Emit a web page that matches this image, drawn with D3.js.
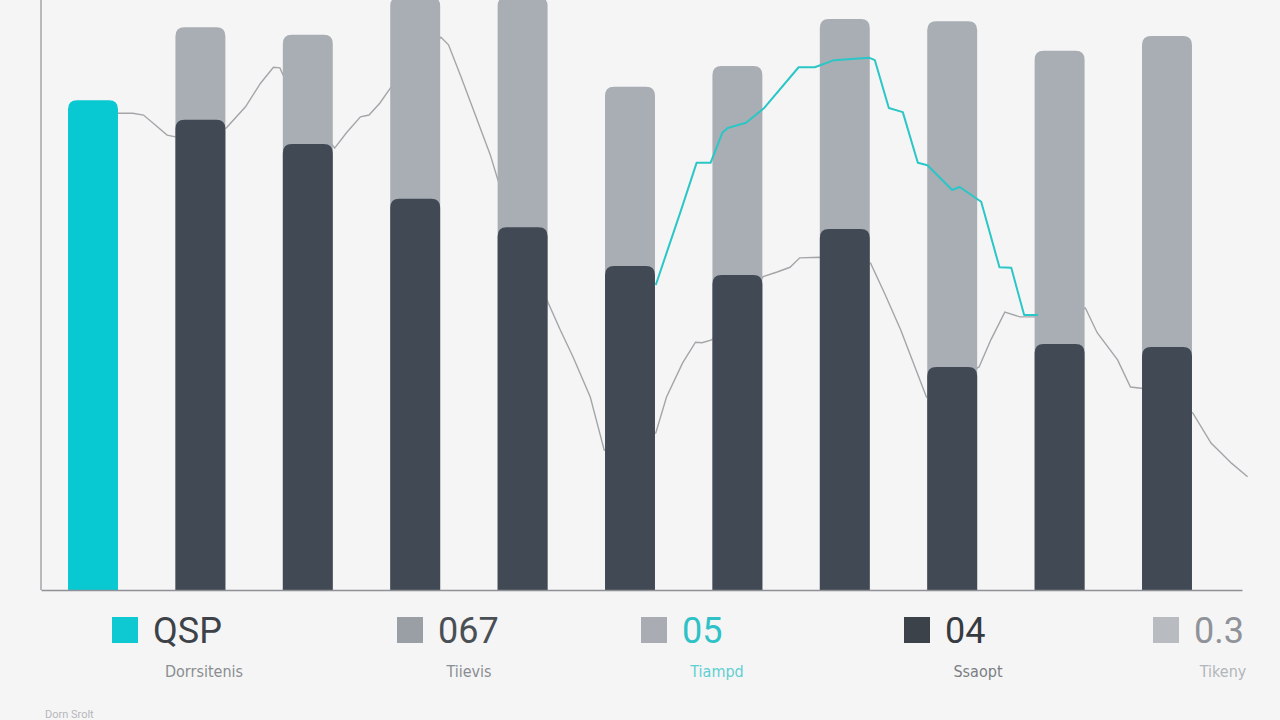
<!DOCTYPE html>
<html>
<head>
<meta charset="utf-8">
<script src="https://cdn.jsdelivr.net/npm/d3@7"></script>
<style>
  html, body { margin: 0; padding: 0; background: #f5f5f6; overflow: hidden; }
  svg { display: block; font-family: Roboto, "Liberation Sans", Arial, sans-serif; }
</style>
</head>
<body>
<div id="chart"></div>
<script>
// chart values
const categories = ['C1', 'C2', 'C3', 'C4', 'C5', 'C6', 'C7', 'C8', 'C9', 'C10', 'C11'];
const cyanValues = [83, null, null, null, null, null, null, null, null, null, null];
const lightValues = [null, 95.4, 94.1, 100.5, 100.5, 85.3, 88.8, 96.8, 96.4, 91.4, 93.9];
const darkValues = [null, 79.7, 75.6, 66.3, 61.5, 54.9, 53.4, 61.2, 37.8, 41.7, 41.2];

// thin gray trend line: [position in category units, value]
const grayLine = [
  [0.73, 80.8], [0.87, 80.8], [0.97, 80.5], [1.08, 78.8], [1.19, 77.1], [1.27, 76.8],
  [1.74, 78.3], [1.92, 81.9], [2.06, 85.9], [2.18, 88.6], [2.24, 88.5], [2.28, 86.9],
  [2.75, 74.9], [2.86, 77.5], [2.99, 80.2], [3.07, 80.5], [3.17, 82.5], [3.27, 85.1],
  [3.74, 93.7], [3.81, 92.4], [3.92, 87.3], [4.06, 80.5], [4.20, 73.7], [4.27, 69.5],
  [4.74, 48.6], [4.85, 44.1], [4.97, 39.5], [5.13, 32.7], [5.26, 23.7],
  [5.74, 26.6], [5.84, 32.7], [5.99, 38.5], [6.11, 42.0], [6.17, 41.9], [6.26, 42.4],
  [6.74, 53.1], [6.87, 53.9], [6.99, 54.7], [7.08, 56.3], [7.27, 56.4],
  [7.74, 55.4], [7.87, 50.3], [8.02, 44.1], [8.26, 32.7],
  [8.75, 37.8], [8.86, 42.4], [8.99, 47.1], [9.13, 46.3], [9.28, 46.3],
  [9.74, 47.8], [9.85, 43.6], [10.04, 39.0], [10.16, 34.4], [10.26, 34.2],
  [10.74, 30.0], [10.91, 24.9], [11.10, 21.5], [11.25, 19.2]
];

// cyan trend line
const cyanLine = [
  [5.74, 51.7], [5.84, 57.1], [5.97, 64.1], [6.12, 72.4], [6.25, 72.4], [6.36, 77.5],
  [6.41, 78.3], [6.58, 79.2], [6.69, 80.8], [6.75, 81.7], [7.07, 88.6], [7.22, 88.6],
  [7.40, 89.8], [7.73, 90.2], [7.78, 89.8], [7.91, 81.7], [8.04, 81.0], [8.18, 72.4],
  [8.27, 72.0], [8.50, 67.8], [8.57, 68.3], [8.77, 65.8], [8.94, 54.7], [9.05, 54.6],
  [9.17, 46.6], [9.30, 46.6]
];

// legend
const legendLabels = ['QSP', '067', '05', '04', '0.3'];
const legendSubs = ['Dorrsitenis', 'Tiievis', 'Tiampd', 'Ssaopt', 'Tikeny'];
const legendSwatch = ['#0fc9d2', '#9a9ea5', '#a9adb3', '#3b424a', '#b8bbc0'];
const legendTextColor = ['#3d4248', '#4a4f55', '#2ec2c6', '#363b41', '#8f9399'];
const legendSubColor = ['#8a8d91', '#8a8d91', '#5fcfd2', '#7b7e82', '#b2b5b9'];

const w = 1280;
const h = 720;
const left = 41;
const right = 1242;
const bottom = 590;

const svg = d3.select('#chart')
  .append('svg')
  .attr('width', w)
  .attr('height', h);

const xBand = d3.scaleBand()
  .domain(categories)
  .range([39.3, 1220.7])
  .paddingInner(0.535)
  .paddingOuter(0.2675);

const xLin = d3.scaleLinear()
  .domain([0, categories.length])
  .range([39.3, 1220.7]);

const y = d3.scaleLinear()
  .domain([0, 100])
  .range([bottom, 0]);

// path for a bar with rounded top corners
const barPath = (x0, y0, bw, bh, r) => {
  const rr = Math.min(r, bh);
  return `M${x0},${y0 + bh}V${y0 + rr}Q${x0},${y0} ${x0 + rr},${y0}` +
    `H${x0 + bw - rr}Q${x0 + bw},${y0} ${x0 + bw},${y0 + rr}V${y0 + bh}Z`;
};

const drawBars = (values, color, cls) => {
  svg.append('g')
    .attr('class', cls)
    .selectAll('path')
    .data(categories.map((c, i) => ({ c, v: values[i] })).filter(d => d.v != null))
    .enter()
    .append('path')
    .attr('d', d => barPath(xBand(d.c), y(d.v), xBand.bandwidth(), y(0) - y(d.v), 9))
    .attr('fill', color);
};

// gray line sits behind bars
svg.append('path')
  .datum(grayLine)
  .attr('fill', 'none')
  .attr('stroke', '#a3a5a8')
  .attr('stroke-width', 1.4)
  .attr('d', d3.line().x(d => xLin(d[0])).y(d => y(d[1])));

drawBars(lightValues, '#a9adb4', 'light');
drawBars(darkValues, '#414a54', 'dark');
drawBars(cyanValues, '#08c8d2', 'cyan');

svg.append('path')
  .datum(cyanLine)
  .attr('fill', 'none')
  .attr('stroke', '#2bc6c6')
  .attr('stroke-width', 2)
  .attr('stroke-linejoin', 'round')
  .attr('d', d3.line().x(d => xLin(d[0])).y(d => y(d[1])));

// axes
const yAxis = d3.axisLeft(y).ticks(0).tickSize(0).tickFormat('');
svg.append('g')
  .attr('transform', 'translate(' + left + ',0)')
  .call(yAxis)
  .call(g => g.select('.domain').attr('stroke', '#8e9195').attr('stroke-width', 1.2).attr('d', `M0,${bottom}V-5`));

const xAxis = d3.axisBottom(d3.scaleLinear().domain([0, 1]).range([left, right])).ticks(0).tickSize(0).tickFormat('');
svg.append('g')
  .attr('transform', 'translate(0,' + bottom + ')')
  .call(xAxis)
  .call(g => g.select('.domain').attr('stroke', '#8e9195').attr('stroke-width', 1.5));

// legend
const legendX = [112, 397, 641, 904, 1153];
const subX = [204, 469, 717, 978, 1223];

const legend = svg.append('g').attr('class', 'legend');
legendLabels.forEach((lab, i) => {
  const g = legend.append('g');
  g.append('rect')
    .attr('x', legendX[i])
    .attr('y', 617)
    .attr('width', 26)
    .attr('height', 26)
    .attr('fill', legendSwatch[i]);
  g.append('text')
    .attr('x', legendX[i] + 41)
    .attr('y', 643)
    .attr('font-size', 36)
    .attr('fill', legendTextColor[i])
    .text(lab);
  g.append('text')
    .attr('x', subX[i])
    .attr('y', 677)
    .attr('text-anchor', 'middle')
    .attr('font-size', 16)
    .attr('font-family', '"DejaVu Sans Condensed", "Liberation Sans Narrow", sans-serif')
    .attr('fill', legendSubColor[i])
    .text(legendSubs[i]);
});

svg.append('text')
  .attr('x', 45)
  .attr('y', 718)
  .attr('font-size', 11)
  .attr('fill', '#b5b7ba')
  .text('Dorn   Srolt');
</script>
</body>
</html>
